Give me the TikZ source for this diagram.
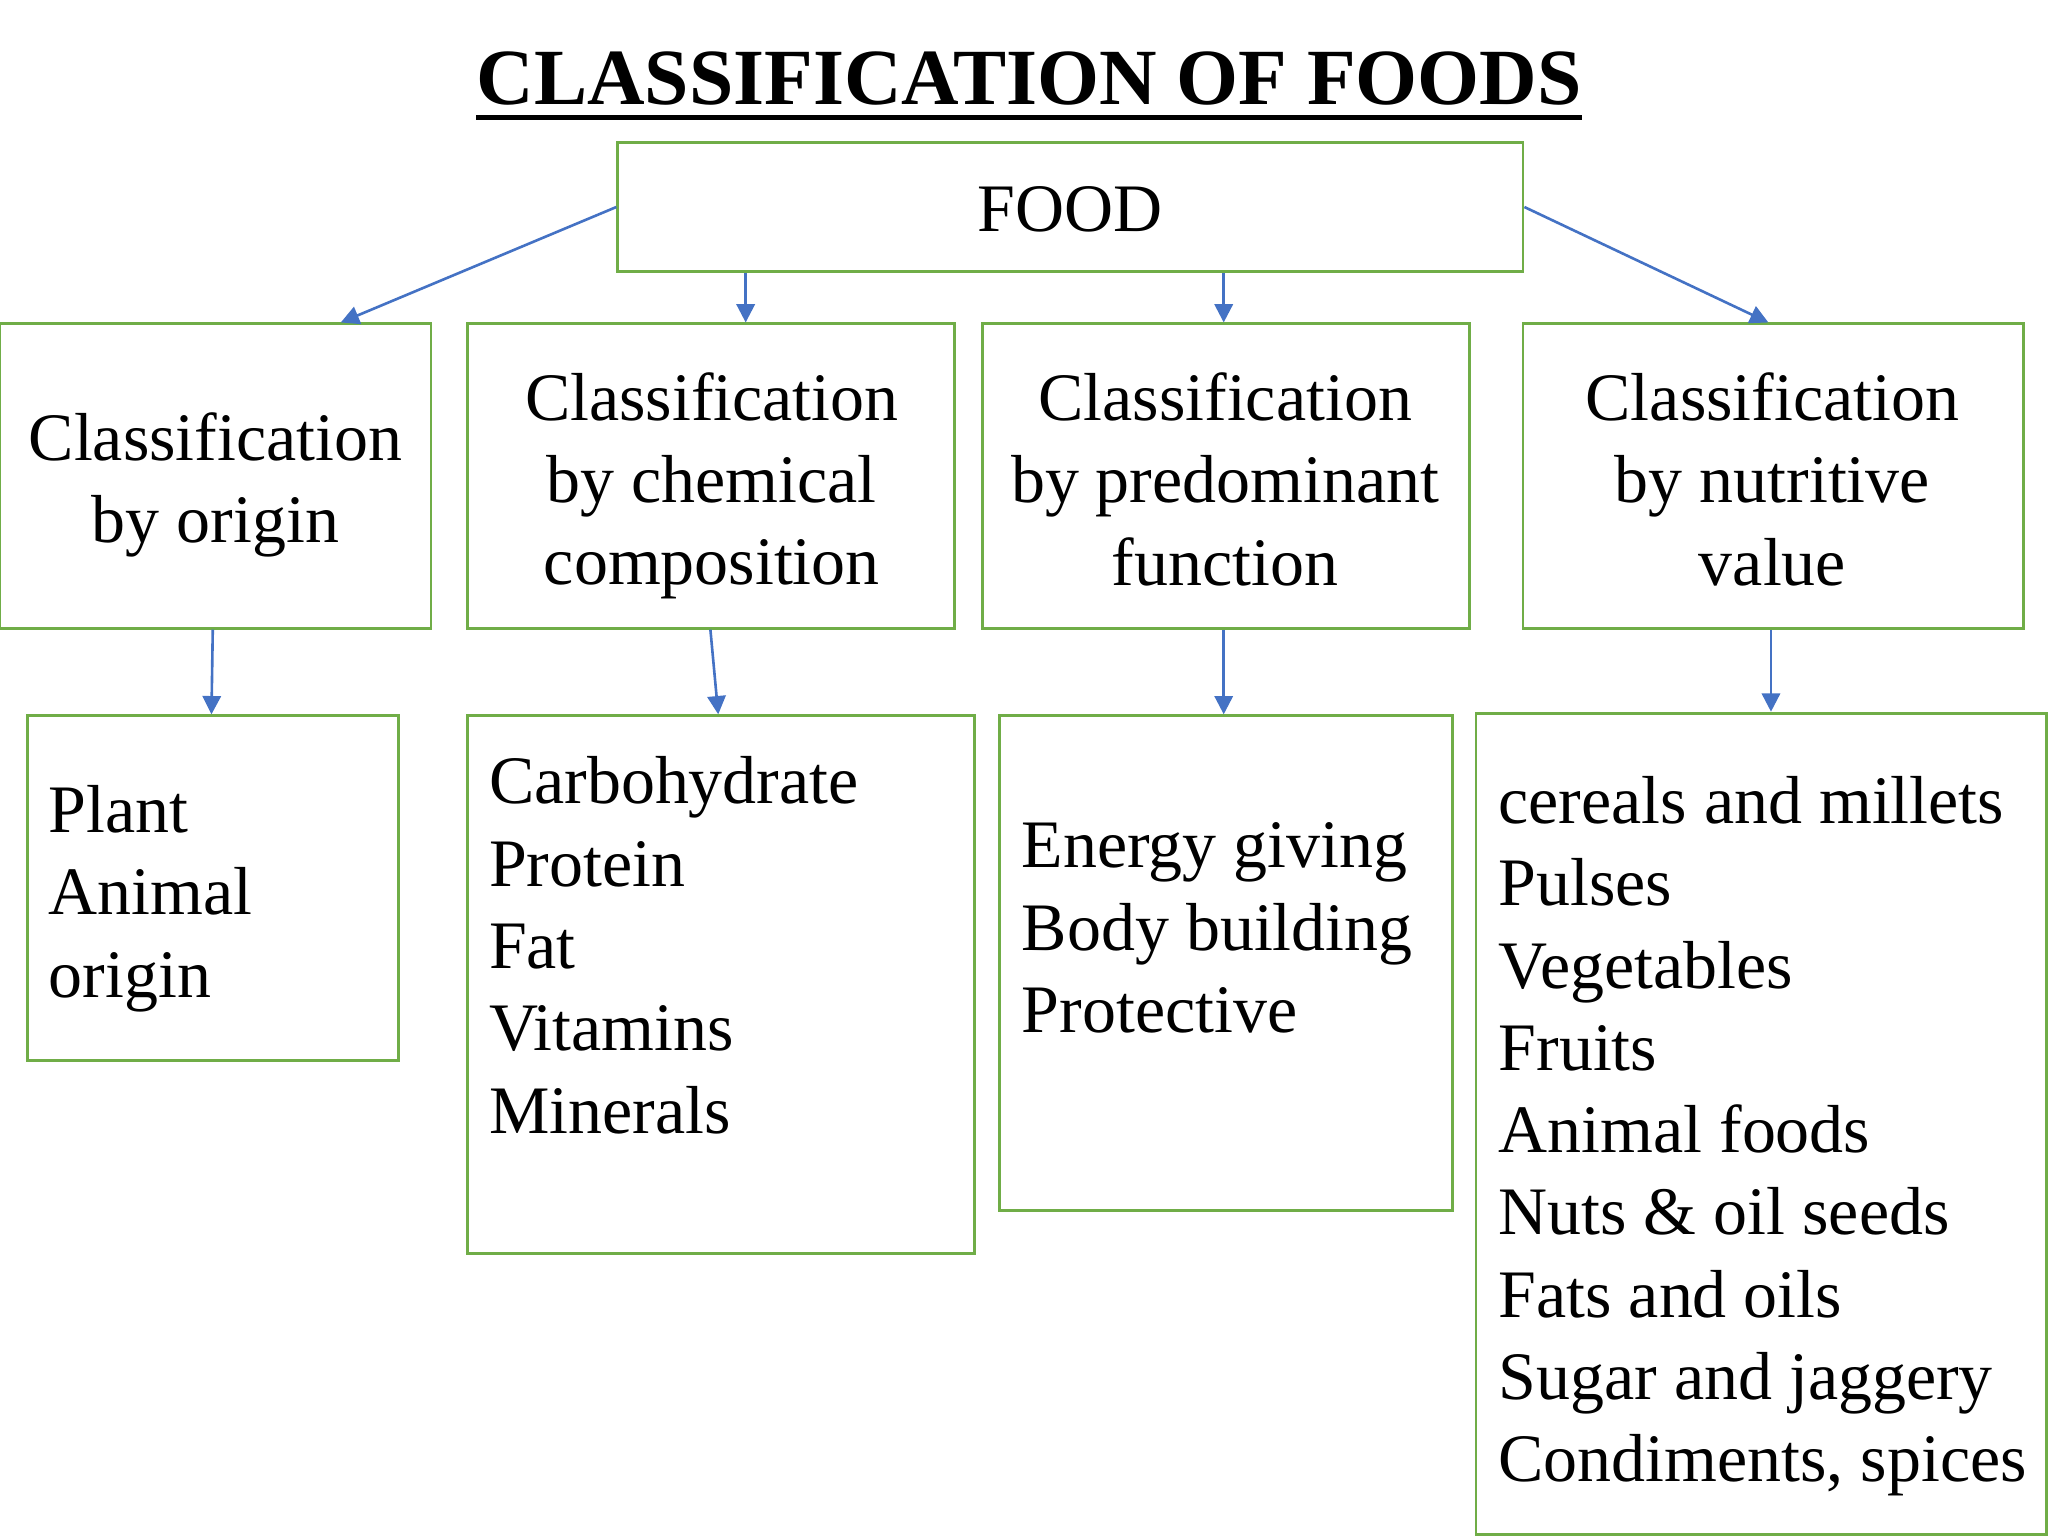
\documentclass[tikz,border=0pt]{standalone}
\usepackage{fontspec}
\setmainfont{Liberation Serif}
\usetikzlibrary{arrows.meta,calc,fit}
\definecolor{boxgreen}{HTML}{70AD47}
\definecolor{arrblue}{HTML}{4472C4}
\tikzset{
  box/.style={draw=boxgreen, line width=1.1pt, inner sep=0pt},
  lbl/.style={font=\fontsize{26}{31.5}\selectfont, inner sep=0pt},
  ltext/.style={lbl, align=left, anchor=north west},
  ctext/.style={lbl, align=center},
  conn/.style={draw=arrblue, line width=1pt, -{Triangle[width=7pt,length=7pt]}}
}
\begin{document}
\begin{tikzpicture}[x=0.5pt,y=-0.5pt]
\useasboundingbox (0,0) rectangle (1568,1176);
% title
\node[font=\bfseries\fontsize{30.5}{36}\selectfont, inner sep=0pt, anchor=base] (title) at (788,80) {CLASSIFICATION OF FOODS};
\draw[line width=1.6pt] ($(title.base west)+(0,10)$) -- ($(title.base east)+(0,10)$);
% root
\node[box, fit={(473,109) (1166,208)}] (food) {};
\node[ctext] (foodt) at (819,160) {FOOD};
% second row
\node[box, fit={(0,248) (330,481)}] (b1) {};
\node[box, fit={(358,248) (731,481)}] (b2) {};
\node[box, fit={(752,248) (1125,481)}] (b3) {};
\node[box, fit={(1166,248) (1549,481)}] (b4) {};
\node[ctext] (b1t) at (165,371) {Classification\\by origin};
\node[ctext] (b2t) at (545,372) {Classification\\by chemical\\composition};
\node[ctext] (b3t) at (938,367) {Classification\\by predominant\\function};
\node[ctext] (b4t) at (1357,367) {Classification\\by nutritive\\value};
% third row
\node[box, fit={(21,548) (305,812)}] (c1) {};
\node[box, fit={(358,548) (746,960)}] (c2) {};
\node[box, fit={(765,548) (1112,927)}] (c3) {};
\node[box, fit={(1130,546) (1567,1175)}] (c4) {};
\node[ltext] (c1t) at (37,593) {\strut Plant\\Animal\\origin};
\node[ltext] (c2t) at (374,571) {\strut Carbohydrate\\Protein\\Fat\\Vitamins\\Minerals};
\node[ltext] (c3t) at (782,620) {\strut Energy giving\\Body building\\Protective};
\node[ltext] (c4t) at (1147,586) {\strut cereals and millets\\Pulses\\Vegetables\\Fruits\\Animal foods\\Nuts \& oil seeds\\Fats and oils\\Sugar and jaggery\\Condiments, spices};
% connectors
\draw[conn] (food.west) -- ($(b1.north west)+(262,0)$);
\draw[conn] ($(food.south west)+(99,0)$) -- ($(b2.north west)+(214,0)$);
\draw[conn] ($(food.south west)+(465,0)$) -- ($(b3.north west)+(186,0)$);
\draw[conn] (food.east) -- ($(b4.north west)+(189,0)$);
\draw[conn] ($(b1.south west)+(164,0)$) -- ($(c1.north west)+(142,0)$);
\draw[conn] ($(b2.south west)+(187,0)$) -- ($(c2.north west)+(193,0)$);
\draw[conn] ($(b3.south west)+(186,0)$) -- ($(c3.north west)+(173,0)$);
\draw[conn] ($(b4.south west)+(191,0)$) -- ($(c4.north west)+(227,0)$);
\end{tikzpicture}
\end{document}
